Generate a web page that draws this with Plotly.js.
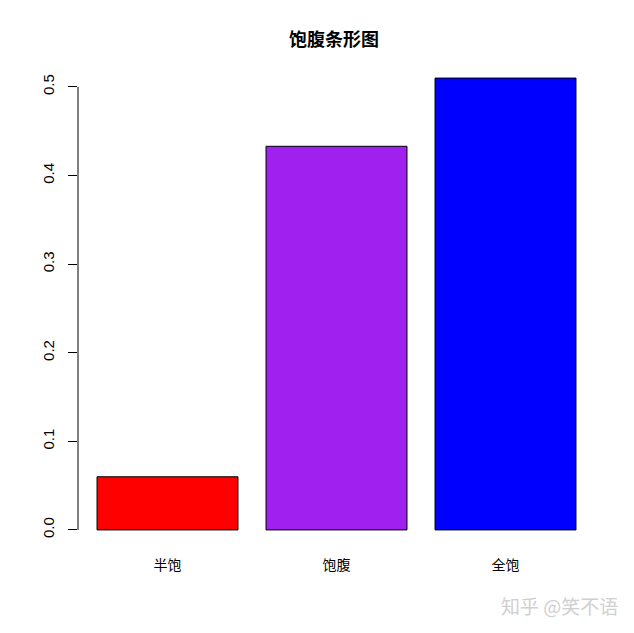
<!DOCTYPE html>
<html>
<head>
<meta charset="utf-8">
<script src="https://cdn.plot.ly/plotly-3.0.1.min.js"></script>
<style>html,body{margin:0;padding:0;background:#fff;}#chart{width:634px;height:633px;}</style>
</head>
<body>
<div id="chart"></div>
<script>
var categories = ["半饱", "饱腹", "全饱"];
var values = [0.060, 0.433, 0.510];
var barColors = ["#FF0000", "#A020F0", "#0000FF"];
var yTickVals = [0, 0.1, 0.2, 0.3, 0.4, 0.5];
var yTickText = ["0.0", "0.1", "0.2", "0.3", "0.4", "0.5"];
var chartTitle = "饱腹条形图";
var watermark = "知乎 @笑不语";

var trace = {
  type: "bar",
  x: categories,
  y: values,
  marker: { color: barColors, line: { color: "#000000", width: 1 } },
  hoverinfo: "none"
};

var layout = {
  width: 634,
  height: 633,
  margin: { l: 78, r: 40, t: 60, b: 85 },
  paper_bgcolor: "#ffffff",
  plot_bgcolor: "#ffffff",
  showlegend: false,
  bargap: 0.166,
  title: {
    text: "<b>" + chartTitle + "</b>",
    font: { family: "Noto Sans CJK SC", size: 18, color: "#000000" },
    x: 0.527, xanchor: "center", y: 0.937, yanchor: "middle"
  },
  xaxis: {
    type: "category",
    range: [-0.5296, 2.5237],
    showline: false, showgrid: false, zeroline: false,
    ticks: "",
    ticklabelstandoff: 7,
    tickfont: { family: "Noto Sans CJK SC", size: 14, color: "#000000" }
  },
  yaxis: {
    range: [-0.0204, 0.5304],
    showline: false, showgrid: false, zeroline: false,
    tickmode: "array",
    tickvals: yTickVals,
    ticktext: yTickText,
    ticks: "outside", ticklen: 9, tickwidth: 1, tickcolor: "#000000",
    tickangle: -90,
    ticklabelstandoff: 8,
    tickfont: { family: "Liberation Sans", size: 15, color: "#000000" }
  },
  shapes: [{
    type: "line", xref: "paper", yref: "y",
    x0: 0, x1: 0,
    y0: Math.min.apply(null, yTickVals), y1: Math.max.apply(null, yTickVals),
    line: { color: "#000000", width: 1 }
  }],
  annotations: [{
    text: watermark, xref: "paper", yref: "paper",
    x: 1.05, y: -0.118, xanchor: "right", yanchor: "middle",
    showarrow: false,
    font: { family: "Noto Sans CJK SC", size: 19, color: "#d0d0d0" }
  }]
};

Plotly.newPlot("chart", [trace], layout, { displayModeBar: false, staticPlot: true });
</script>
</body>
</html>
